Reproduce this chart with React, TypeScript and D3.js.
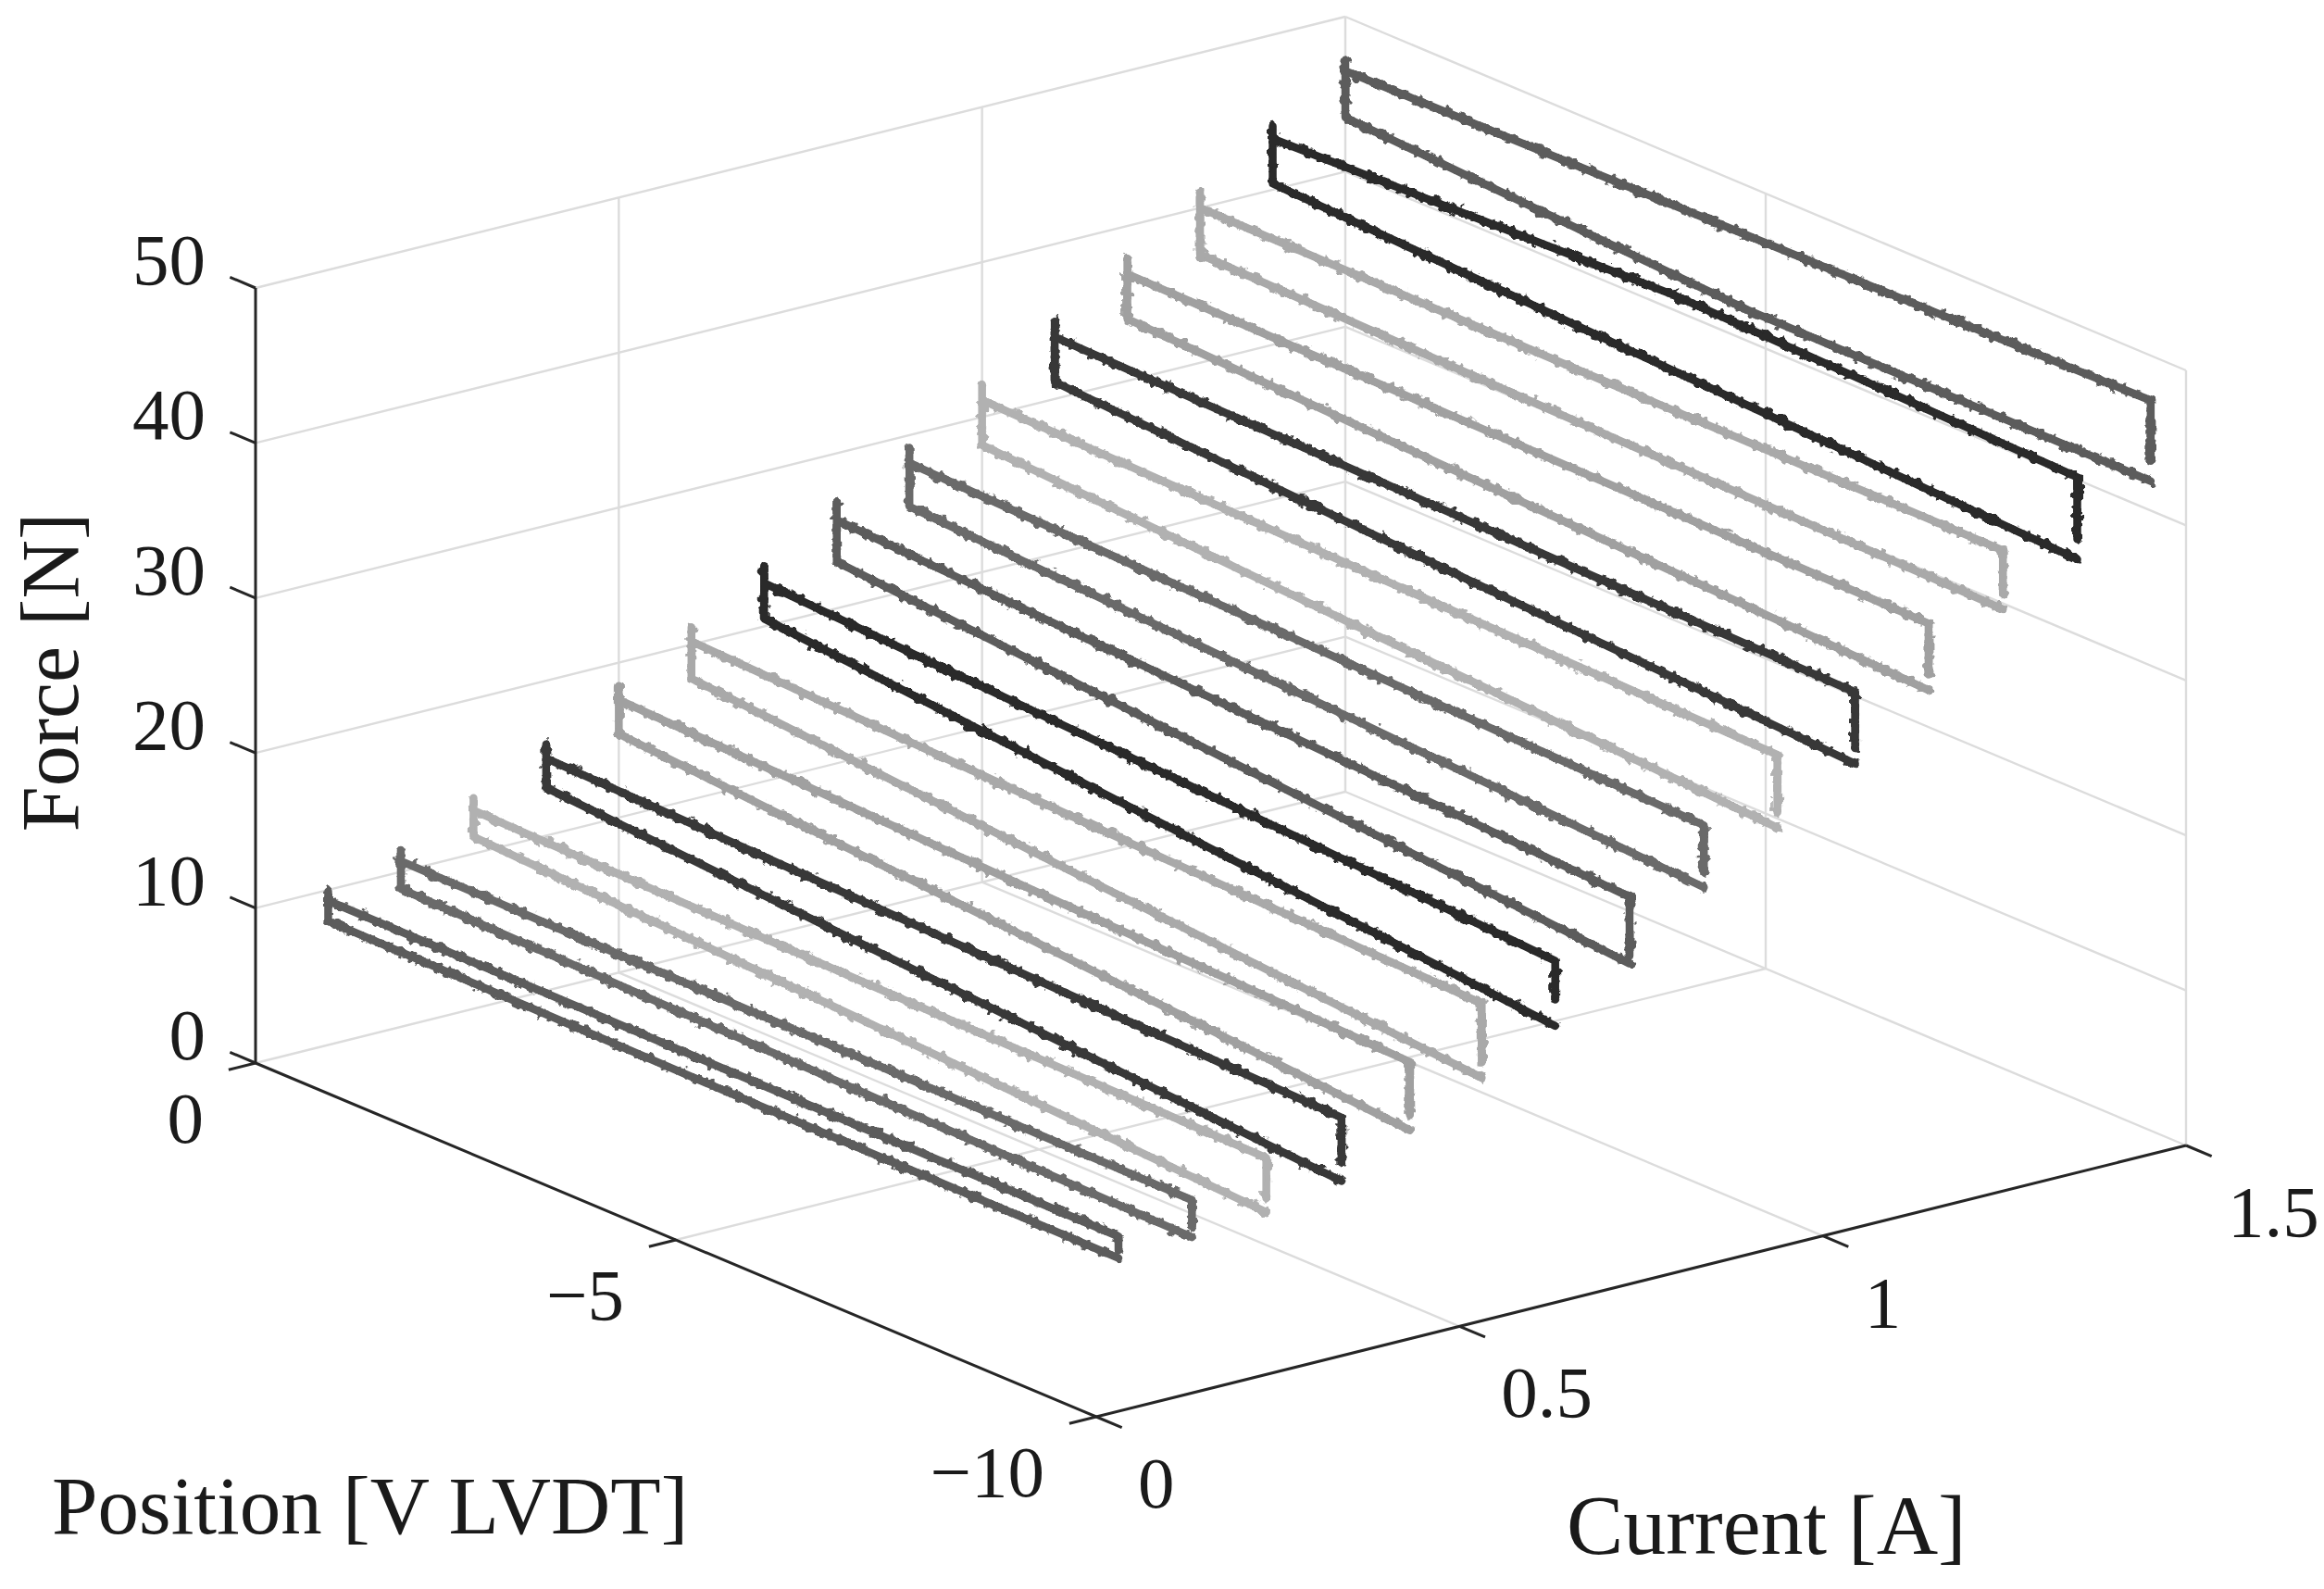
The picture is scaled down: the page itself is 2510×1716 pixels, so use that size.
import React from 'react';
import { scaleLinear, line, range } from 'd3';

// one loop per coil current, traced along position 0 -> right end -> 0
const currents = [0.1, 0.2, 0.3, 0.4, 0.5, 0.6, 0.7, 0.8, 0.9, 1.0, 1.1, 1.2, 1.3, 1.4, 1.5];
const posLeft = 0;
const posRight = [-9.4, -9.41, -9.43, -9.46, -9.41, -9.4, -9.41, -9.43, -9.45, -9.46, -9.52, -9.53, -9.55, -9.57, -9.58];

// forces [N]
const peakLeft = [9.9, 11.4, 13.6, 15.9, 18.5, 21.1, 23.9, 26.8, 29.2, 32.1, 35.0, 37.9, 41.0, 44.1, 47.2];
const upperLeft = [9.3, 10.7, 12.8, 15.0, 17.6, 20.2, 22.8, 25.7, 28.2, 31.1, 34.0, 36.9, 40.0, 43.3, 46.5];
const upperMid = [9.2, 10.5, 12.3, 14.2, 16.6, 19.2, 21.4, 24.3, 27.3, 30.4, 33.4, 36.5, 39.8, 44.1, 46.8];
const upperRight = [9.1, 10.3, 11.9, 13.4, 15.7, 18.3, 19.9, 22.9, 26.4, 29.8, 32.8, 36.1, 39.7, 43.3, 47.1];
const dropRight = [8.2, 8.6, 9.3, 10.5, 12.3, 14.5, 17.4, 19.1, 23.4, 26.1, 29.2, 32.8, 36.9, 39.3, 43.2];
const lowerRight = [7.7, 7.9, 8.4, 9.3, 11.3, 13.5, 15.7, 18.6, 22.4, 25.1, 28.2, 31.8, 35.9, 38.0, 41.9];
const lowerMid = [7.8, 8.4, 9.8, 11.2, 13.4, 15.6, 18.1, 20.8, 23.9, 26.6, 29.6, 32.9, 36.4, 39.2, 42.0];
const lowerLeft = [8.0, 8.9, 11.1, 13.1, 15.4, 17.8, 20.5, 23.0, 25.4, 28.2, 31.1, 34.0, 37.0, 40.4, 43.5];

const forceTicks = [0, 10, 20, 30, 40, 50];
const positionTicks = [0, -5, -10];
const currentTicks = [0, 0.5, 1, 1.5];

// matlab default colour order, printed in grey
const greys = ['#5c5c5c', '#6a6a6a', '#b1b1b1', '#383838', '#a0a0a0', '#a9a9a9', '#292929'];

const W = 2510;
const H = 1716;
const O = { x: 276, y: 1148 };
const PVEC = { x: 908, y: 382 };
const CVEC = { x: 1177, y: -293 };
const FLEN = 837;

const pScale = scaleLinear().domain([0, -10]).range([0, 1]);
const cScale = scaleLinear().domain([0, 1.5]).range([0, 1]);
const fScale = scaleLinear().domain([0, 50]).range([0, 1]);

function project(p: number, c: number, f: number): [number, number] {
  const u = pScale(p), v = cScale(c), w = fScale(f);
  return [O.x + u * PVEC.x + v * CVEC.x, O.y + u * PVEC.y + v * CVEC.y - w * FLEN];
}

const pLen = Math.hypot(PVEC.x, PVEC.y);
const cLen = Math.hypot(CVEC.x, CVEC.y);
const TICK = 30;

const font = '"Liberation Serif", "Times New Roman", serif';
const gridColor = '#dcdcdc';
const axisColor = '#262626';

const fmt = (v: number) => (v < 0 ? '\u2212' + Math.abs(v) : String(v));

function App() {
  const path = line<[number, number]>();

  const grid: [number, number, number, number, number, number][] = [];
  forceTicks.forEach(f => {
    grid.push([0, 0, f, 0, 1.5, f]);
    grid.push([0, 1.5, f, -10, 1.5, f]);
  });
  currentTicks.slice(1).forEach(c => grid.push([0, c, 0, 0, c, 50]));
  positionTicks.slice(1).forEach(p => grid.push([p, 1.5, 0, p, 1.5, 50]));
  currentTicks.slice(1, 3).forEach(c => grid.push([0, c, 0, -10, c, 0]));
  grid.push([-5, 0, 0, -5, 1.5, 0]);

  const loops = range(currents.length).map(i => {
    const c = currents[i];
    const pr = posRight[i];
    const pm = (posLeft + pr) / 2;
    const pts: [number, number][] = [
      project(pr, c, lowerRight[i]),
      project(pm, c, lowerMid[i]),
      project(posLeft, c, lowerLeft[i]),
      project(posLeft, c, peakLeft[i]),
      project(posLeft, c, upperLeft[i]),
      project(pm, c, upperMid[i]),
      project(pr, c, upperRight[i]),
      project(pr, c, dropRight[i]),
    ];
    return { d: path(pts) || '', color: greys[i % greys.length] };
  });

  const origin = project(0, 0, 0);
  const zTop = project(0, 0, 50);
  const pEnd = project(-10, 0, 0);
  const cEnd = project(-10, 1.5, 0);

  return (
    <svg width={W} height={H} style={{ position: 'absolute', left: 0, top: 0, background: '#fff' }}>
      <defs>
        <filter id="rough" x="-5%" y="-5%" width="110%" height="110%">
          <feTurbulence type="fractalNoise" baseFrequency="0.13" numOctaves={2} seed={4} result="n" />
          <feDisplacementMap in="SourceGraphic" in2="n" scale={12} xChannelSelector="R" yChannelSelector="G" />
        </filter>
      </defs>

      <g stroke={gridColor} strokeWidth={2.4} fill="none">
        {grid.map((g, i) => {
          const a = project(g[0], g[1], g[2]);
          const b = project(g[3], g[4], g[5]);
          return <line key={i} x1={a[0]} y1={a[1]} x2={b[0]} y2={b[1]} />;
        })}
      </g>

      {loops.slice().reverse().map((l, i) => (
        <g key={i} fill="none" stroke={l.color} strokeLinejoin="round" strokeLinecap="round">
          <path d={l.d} strokeWidth={8.5} />
          <path d={l.d} strokeWidth={9} filter="url(#rough)" />
        </g>
      ))}

      <g stroke={axisColor} strokeWidth={3} fill="none">
        <line x1={origin[0]} y1={origin[1]} x2={zTop[0]} y2={zTop[1]} />
        <line x1={origin[0]} y1={origin[1]} x2={pEnd[0]} y2={pEnd[1]} />
        <line x1={pEnd[0]} y1={pEnd[1]} x2={cEnd[0]} y2={cEnd[1]} />
        {forceTicks.map(f => {
          const a = project(0, 0, f);
          return <line key={'f' + f} x1={a[0]} y1={a[1]} x2={a[0] - PVEC.x / pLen * TICK} y2={a[1] - PVEC.y / pLen * TICK} />;
        })}
        {positionTicks.map(p => {
          const a = project(p, 0, 0);
          return <line key={'p' + p} x1={a[0]} y1={a[1]} x2={a[0] - CVEC.x / cLen * TICK} y2={a[1] - CVEC.y / cLen * TICK} />;
        })}
        {currentTicks.map(c => {
          const a = project(-10, c, 0);
          return <line key={'c' + c} x1={a[0]} y1={a[1]} x2={a[0] + PVEC.x / pLen * TICK} y2={a[1] + PVEC.y / pLen * TICK} />;
        })}
      </g>

      <g fontFamily={font} fontSize={79} fill="#1a1a1a">
        {forceTicks.map(f => {
          const a = project(0, 0, f);
          return <text key={'ft' + f} x={a[0] - 54} y={a[1] - 4} textAnchor="end">{fmt(f)}</text>;
        })}
        {positionTicks.map(p => {
          const a = project(p, 0, 0);
          return <text key={'pt' + p} x={a[0] - 56} y={a[1] + 86} textAnchor="end">{fmt(p)}</text>;
        })}
        {currentTicks.map(c => {
          const a = project(-10, c, 0);
          return <text key={'ct' + c} x={a[0] + 45} y={a[1] + 98} textAnchor="start">{fmt(c)}</text>;
        })}
      </g>

      <g fontFamily={font} fill="#1a1a1a">
        <text x={56} y={1656} fontSize={89}>Position [V LVDT]</text>
        <text x={1692} y={1678} fontSize={92}>Current [A]</text>
        <text transform="translate(84,726) rotate(-90)" textAnchor="middle" fontSize={88}>Force [N]</text>
      </g>
    </svg>
  );
}

export default App;
